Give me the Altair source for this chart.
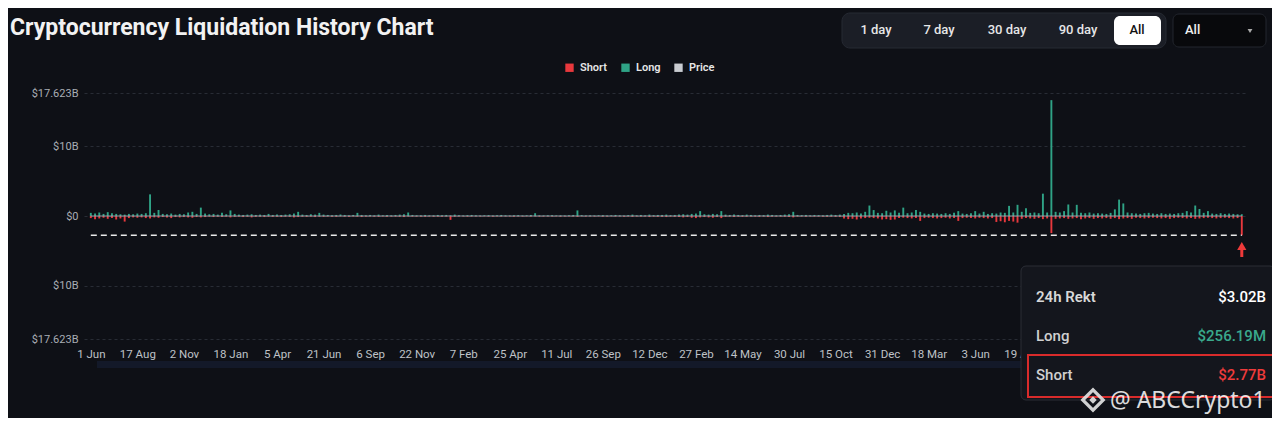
import altair as alt
import pandas as pd

# ---------------- data ----------------
start_date = "2021-06-01"          # first weekly bar
domain_start = "2021-05-29"
domain_end = "2026-08-20"

# weekly long liquidations ($B)
long_2021 = [0.45, 0.35, 0.5, 0.3, 0.55, 0.4, 0.3, 0.25, 0.2, 0.3,
             0.25, 0.35, 0.3, 0.4, 3.1, 0.45, 0.86, 0.3, 0.25, 0.35,
             0.2, 0.3, 0.25, 0.5, 0.6, 0.3, 1.2, 0.35, 0.25, 0.3,
             0.2]
long_2022 = [0.45, 0.25, 0.8, 0.3, 0.2, 0.15, 0.2, 0.25, 0.15, 0.2,
             0.15, 0.3, 0.15, 0.2, 0.15, 0.2, 0.25, 0.35, 0.6, 0.2,
             0.15, 0.25, 0.2, 0.45, 0.2, 0.15, 0.1, 0.15, 0.2, 0.15,
             0.1, 0.15, 0.45, 0.15, 0.1, 0.15, 0.1, 0.2, 0.1, 0.15,
             0.1, 0.15, 0.2, 0.25, 0.5, 0.15, 0.1, 0.1, 0.15, 0.1,
             0.1, 0.15]
long_2023 = [0.1, 0.15, 0.1, 0.2, 0.1, 0.08, 0.12, 0.15, 0.1, 0.08,
             0.1, 0.12, 0.08, 0.1, 0.15, 0.1, 0.08, 0.1, 0.12, 0.08,
             0.1, 0.15, 0.4, 0.1, 0.08, 0.1, 0.12, 0.08, 0.1, 0.08,
             0.1, 0.15, 0.8, 0.12, 0.08, 0.1, 0.08, 0.1, 0.12, 0.08,
             0.1, 0.15, 0.1, 0.08, 0.12, 0.2, 0.1, 0.15, 0.1, 0.2,
             0.12, 0.15]
long_2024 = [0.15, 0.2, 0.12, 0.15, 0.2, 0.25, 0.2, 0.3, 0.35, 0.7,
             0.25, 0.2, 0.3, 0.25, 0.7, 0.2, 0.15, 0.2, 0.15, 0.12,
             0.2, 0.15, 0.1, 0.15, 0.12, 0.2, 0.15, 0.1, 0.15, 0.2,
             0.25, 0.6, 0.15, 0.12, 0.15, 0.1, 0.15, 0.12, 0.1, 0.15,
             0.2, 0.15, 0.2, 0.3, 0.45, 0.4, 0.5, 0.35, 0.6, 1.5,
             0.85, 0.45]
long_2025 = [0.4, 0.75, 0.5, 0.8, 0.45, 1.2, 0.4, 0.5, 0.85, 0.6,
             0.35, 0.3, 0.4, 0.35, 0.3, 0.4, 0.3, 0.45, 0.7, 0.35,
             0.3, 0.4, 0.7, 0.35, 0.6, 0.3, 0.4, 0.35, 0.5, 0.45,
             1.45, 0.5, 1.6, 0.6, 1.1, 0.45, 0.5, 0.4, 3.2, 0.5,
             16.6, 0.6, 0.5, 0.7, 1.65, 0.5, 1.6, 0.45, 0.4, 0.5,
             0.35, 0.4]
long_2026 = [0.35, 0.3, 0.45, 0.95, 2.35, 1.8, 0.5, 0.4, 0.35, 0.3,
             0.4, 0.45, 0.35, 0.3, 0.4, 0.3, 0.35, 0.3, 0.4, 0.45,
             0.7, 0.5, 1.5, 1.0, 0.45, 0.7, 0.35, 0.3, 0.4, 0.3,
             0.35, 0.3, 0.25, 0.256]

# weekly short liquidations ($B, drawn below zero)
short_2021 = [0.3, 0.45, 0.35, 0.25, 0.4, 0.3, 0.5, 0.35, 0.8, 0.3,
              0.2, 0.25, 0.2, 0.3, 0.35, 0.2, 0.25, 0.15, 0.2, 0.3,
              0.15, 0.2, 0.15, 0.2, 0.25, 0.15, 0.2, 0.15, 0.1, 0.15,
              0.1]
short_2022 = [0.15, 0.1, 0.2, 0.12, 0.1, 0.15, 0.1, 0.2, 0.12, 0.1,
              0.15, 0.1, 0.12, 0.1, 0.15, 0.1, 0.12, 0.2, 0.15, 0.1,
              0.12, 0.1, 0.15, 0.1, 0.12, 0.08, 0.1, 0.12, 0.08, 0.1,
              0.12, 0.08, 0.1, 0.15, 0.1, 0.08, 0.1, 0.12, 0.08, 0.1,
              0.08, 0.1, 0.12, 0.15, 0.08, 0.1, 0.08, 0.1, 0.12, 0.08,
              0.1, 0.1]
short_2023 = [0.1, 0.08, 0.55, 0.12, 0.08, 0.06, 0.1, 0.08, 0.06, 0.08,
              0.06, 0.08, 0.1, 0.06, 0.08, 0.06, 0.08, 0.1, 0.06, 0.08,
              0.06, 0.08, 0.06, 0.1, 0.08, 0.06, 0.08, 0.06, 0.1, 0.08,
              0.06, 0.08, 0.12, 0.06, 0.08, 0.06, 0.08, 0.06, 0.1, 0.08,
              0.06, 0.08, 0.06, 0.1, 0.08, 0.12, 0.08, 0.1, 0.08, 0.15,
              0.1, 0.12]
short_2024 = [0.12, 0.15, 0.1, 0.12, 0.15, 0.2, 0.15, 0.25, 0.3, 0.2,
              0.15, 0.2, 0.25, 0.15, 0.3, 0.12, 0.1, 0.15, 0.1, 0.12,
              0.1, 0.08, 0.1, 0.12, 0.08, 0.15, 0.1, 0.08, 0.1, 0.12,
              0.15, 0.2, 0.1, 0.08, 0.1, 0.08, 0.1, 0.08, 0.1, 0.12,
              0.1, 0.12, 0.15, 0.35, 0.45, 0.4, 0.5, 0.35, 0.3, 0.25,
              0.3, 0.35]
short_2025 = [0.5, 0.45, 0.55, 0.5, 0.3, 0.25, 0.3, 0.35, 0.3, 0.7,
              0.3, 0.25, 0.3, 0.35, 0.3, 0.25, 0.35, 0.3, 0.7, 0.3,
              0.25, 0.3, 0.35, 0.25, 0.3, 0.35, 0.3, 0.85, 0.75, 0.9,
              0.7, 0.8, 0.95, 0.4, 0.3, 0.35, 0.4, 0.3, 0.45, 0.35,
              2.45, 0.4, 0.35, 0.3, 0.4, 0.35, 0.3, 0.45, 0.35, 0.3,
              0.4, 0.3]
short_2026 = [0.35, 0.3, 0.4, 0.3, 0.45, 0.35, 0.3, 0.4, 0.25, 0.3,
              0.35, 0.3, 0.25, 0.3, 0.35, 0.3, 0.4, 0.3, 0.25, 0.3,
              0.35, 0.3, 0.4, 0.35, 0.3, 0.25, 0.3, 0.35, 0.3, 0.25,
              0.3, 0.35, 0.3, 2.77]

x_tick_dates = ["2021-06-01", "2021-08-17", "2021-11-02", "2022-01-18", "2022-04-05",
                "2022-06-21", "2022-09-06", "2022-11-22", "2023-02-07", "2023-04-25",
                "2023-07-11", "2023-09-26", "2023-12-12", "2024-02-27", "2024-05-14",
                "2024-07-30", "2024-10-15", "2024-12-31", "2025-03-18", "2025-06-03",
                "2025-08-19"]
y_tick_values = [17.623, 10, 0, -10, -17.623]
legend_items = ["Short", "Long", "Price"]
range_buttons = ["1 day", "7 day", "30 day", "90 day", "All"]
tooltip_labels = ["24h Rekt", "Long", "Short"]
tooltip_values = ["$3.02B", "$256.19M", "$2.77B"]
title_text = "Cryptocurrency Liquidation History Chart"
dropdown_text = "All"
watermark_text = "@ ABCCrypto1"

# ---------------- styles ----------------
BG = "#0e1016"
RED = "#e8383d"
GREEN = "#2fa386"
GRAY = "#c9ccd1"
FONT = "Roboto"


def ms(d):
    return int(pd.Timestamp(d, tz="UTC").timestamp() * 1000)


long_vals = long_2021 + long_2022 + long_2023 + long_2024 + long_2025 + long_2026
short_vals = short_2021 + short_2022 + short_2023 + short_2024 + short_2025 + short_2026
assert len(long_vals) == len(short_vals)
dates = pd.date_range(start_date, periods=len(long_vals), freq="7D", tz="UTC")
date_ms = [int(d.timestamp() * 1000) for d in dates]

rows = []
for d, lv, sv in zip(date_ms, long_vals, short_vals):
    rows.append({"date": d, "value": lv, "type": "Long"})
    rows.append({"date": d, "value": -sv, "type": "Short"})
bars_df = pd.DataFrame(rows)

x_scale = alt.Scale(type="utc", domain=[ms(domain_start), ms(domain_end)], nice=False)
y_scale = alt.Scale(domain=[-17.623, 17.623], nice=False, zero=False)

bars = alt.Chart(bars_df).mark_bar(width=1.9).encode(
    x=alt.X("date:T", scale=x_scale, title=None,
            axis=alt.Axis(values=[ms(d) for d in x_tick_dates],
                          labelExpr="utcFormat(datum.value, '%-d %b')",
                          grid=False, domain=False, ticks=False,
                          labelColor="#bfc2c7", labelFontSize=11.5, labelPadding=9,
                          labelOverlap=False, labelFlush=False)),
    y=alt.Y("value:Q", scale=y_scale, title=None,
            axis=alt.Axis(values=y_tick_values,
                          labelExpr="datum.value == 0 ? '$0' : '$' + abs(datum.value) + 'B'",
                          grid=True, gridColor="#282c35", gridDash=[3, 3], gridWidth=1,
                          domain=False, ticks=False, labelColor="#a9adb4",
                          labelFontSize=11, labelPadding=6)),
    color=alt.Color("type:N",
                    scale=alt.Scale(domain=legend_items, range=[RED, GREEN, GRAY]),
                    legend=alt.Legend(orient="none", legendX=480, legendY=-31,
                                      direction="horizontal", title=None,
                                      symbolType="square", symbolSize=70,
                                      symbolStrokeWidth=0, labelColor="#e6e6e6",
                                      labelFontSize=11, labelFontWeight=600,
                                      columnPadding=12, labelOffset=5, padding=0)),
)

span_df = pd.DataFrame({"d0": [date_ms[0]], "d1": [date_ms[-1]],
                        "zero": [0.0], "last_short": [-short_vals[-1]]})

price_line = alt.Chart(span_df).mark_rule(color="#a4a8b0", strokeWidth=1.1, opacity=0.9).encode(
    x=alt.X("d0:T", title=None), x2="d1:T", y=alt.Y("zero:Q", title=None))

dash_line = alt.Chart(span_df).mark_rule(color="#e8e8e8", strokeWidth=1.5,
                                         strokeDash=[6, 4]).encode(
    x=alt.X("d0:T", title=None), x2="d1:T", y=alt.Y("last_short:Q", title=None))

last_df = pd.DataFrame({"d1": [date_ms[-1]]})
arrow_head = alt.Chart(last_df).mark_point(shape="triangle-up", filled=True, size=85,
                                           color="#ee3a3a", opacity=1).encode(
    x=alt.X("d1:T", title=None), y=alt.value(153))
arrow_stem = alt.Chart(last_df).mark_rule(color="#ee3a3a", strokeWidth=3).encode(
    x=alt.X("d1:T", title=None), y=alt.value(155), y2=alt.value(164))


def one():
    return pd.DataFrame({"k": [0]})


def rect(x, x2, y, y2, **kw):
    return alt.Chart(one()).mark_rect(**kw).encode(
        x=alt.value(x), x2=alt.value(x2), y=alt.value(y), y2=alt.value(y2))


def text(t, x, y, **kw):
    kw.setdefault("font", FONT)
    return alt.Chart(pd.DataFrame({"t": [t]})).mark_text(**kw).encode(
        text="t:N", x=alt.value(x), y=alt.value(y))


layers = [bars, price_line, dash_line, arrow_head, arrow_stem]

# title
layers.append(text(title_text, -74, -65, align="left", baseline="middle",
                   fontSize=23, fontWeight="bold", color="#f2f2f2"))

# range buttons
layers.append(rect(758, 1082, -80, -45, color="#1b1e26", cornerRadius=8,
                   stroke="#262a33", strokeWidth=1))
layers.append(rect(1030, 1077, -77, -48, color="#ffffff", cornerRadius=6))
btn_x = [792, 855, 923, 994, 1053]
for i, (lab, bx) in enumerate(zip(range_buttons, btn_x)):
    col = "#111111" if i == len(range_buttons) - 1 else "#e6e6e6"
    layers.append(text(lab, bx, -63, align="center", baseline="middle",
                       fontSize=13, fontWeight=500, color=col))

# dropdown
layers.append(rect(1089, 1182, -79, -46, color="#08090c", cornerRadius=6,
                   stroke="#23262e", strokeWidth=1))
layers.append(text(dropdown_text, 1101, -63, align="left", baseline="middle",
                   fontSize=13, fontWeight=500, color="#f0f0f0"))
layers.append(alt.Chart(one()).mark_point(shape="triangle-down", filled=True, size=24,
                                          color="#aaaaaa", opacity=1).encode(
    x=alt.value(1166), y=alt.value(-62)))

# slider strip below axis
layers.append(rect(13, 1186, 268, 275, color="#131929"))

# tooltip box
layers.append(rect(937, 1191, 173, 307, color="#14161d", cornerRadius=5,
                   stroke="#2a2d35", strokeWidth=1))
ty = [204, 243, 282]
lab_cols = ["#d8d8d8", "#d0d0d0", "#d0d0d0"]
val_cols = ["#ffffff", "#3aa98c", "#ee3b3b"]
for lab, val, yy, lc, vc, w in zip(tooltip_labels, tooltip_values, ty, lab_cols, val_cols,
                                   [600, 500, 500]):
    layers.append(text(lab, 952, yy, align="left", baseline="middle",
                       fontSize=15, fontWeight=w, color=lc))
    layers.append(text(val, 1182, yy, align="right", baseline="middle",
                       fontSize=15, fontWeight=500, color=vc))
layers.append(rect(944, 1193, 262, 304, fill="#000000", fillOpacity=0,
                   stroke="#d92b2b", strokeWidth=2))

# watermark: logo (outlined diamond with centre diamond) + handle
layers.append(text(watermark_text, 1026, 308, align="left", baseline="middle",
                   fontSize=23, fontWeight=400, color="#ffffff", opacity=0.85,
                   font="Noto Sans"))
layers.append(alt.Chart(one()).mark_point(shape="diamond", filled=False, size=420,
                                          color="#e6e6e6", strokeWidth=3.2,
                                          opacity=0.9).encode(
    x=alt.value(1009), y=alt.value(307)))
layers.append(alt.Chart(one()).mark_point(shape="diamond", filled=True, size=55,
                                          color="#e6e6e6", opacity=0.9).encode(
    x=alt.value(1009), y=alt.value(307)))

chart = alt.layer(*layers).properties(
    width=1164, height=246,
    padding={"left": 76, "top": 85, "right": 24, "bottom": 79},
    autosize=alt.AutoSizeParams(type="none"),
    background=BG,
).configure(font=FONT).configure_view(stroke=None)

chart.save("out.html", embed_options={"renderer": "svg", "actions": False})
